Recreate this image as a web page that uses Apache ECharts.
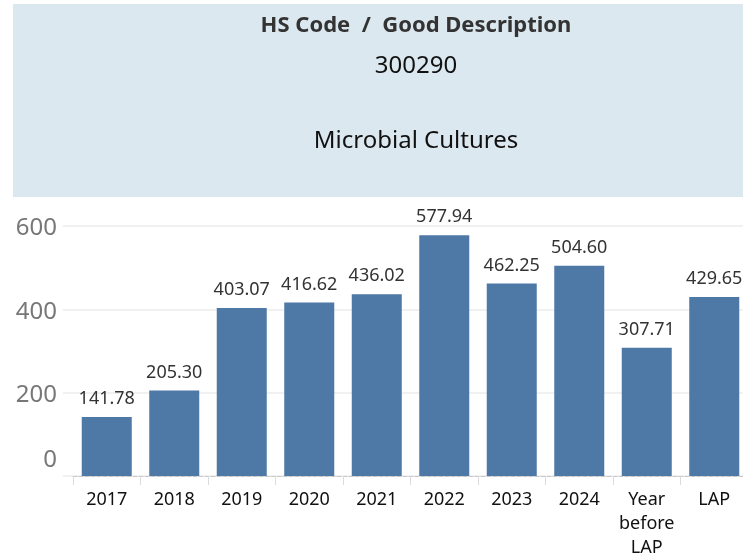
<!DOCTYPE html>
<html>
<head>
<meta charset="utf-8">
<script src="https://cdn.jsdelivr.net/npm/echarts@6/dist/echarts.min.js"></script>
<style>
html,body{margin:0;padding:0;background:#fff;}
#chart{width:743px;height:555px;}
</style>
</head>
<body>
<div id="chart"></div>
<script>
const categories = ['2017','2018','2019','2020','2021','2022','2023','2024','Year\nbefore\nLAP','LAP'];
const values = [141.78, 205.30, 403.07, 416.62, 436.02, 577.94, 462.25, 504.60, 307.71, 429.65];
const yTicks = [0, 200, 400, 600];
const headerTitle = 'HS Code  /  Good Description';
const hsCode = '300290';
const goodDescription = 'Microbial Cultures';

const FONT = '"Noto Sans", sans-serif';
const chart = echarts.init(document.getElementById('chart'), null, {renderer:'canvas'});
chart.setOption({
  animation:false,
  backgroundColor:'#fff',
  graphic:[{type:'rect', left:13, top:4, shape:{width:730, height:193}, style:{fill:'#dce8ef'}, z:-1}],
  title:[
    {text:headerTitle, left:411, top:10, textAlign:'center', textStyle:{fontFamily:FONT, fontSize:22, fontWeight:'bold', color:'#333'}},
    {text:hsCode, left:411, top:49, textAlign:'center', textStyle:{fontFamily:FONT, fontSize:24, fontWeight:'normal', color:'#111'}},
    {text:goodDescription, left:411, top:124, textAlign:'center', textStyle:{fontFamily:FONT, fontSize:24, fontWeight:'normal', color:'#111'}}
  ],
  grid:[
    {left:63, width:685, top:226, height:250, containLabel:false, outerBoundsMode:'none'},
    {left:73, width:675, top:226, height:250, containLabel:false, outerBoundsMode:'none'}
  ],
  xAxis:[
    {gridIndex:0, type:'value', show:false, min:0, max:1},
    {gridIndex:1, type:'category', data:categories, boundaryGap:true,
     axisLine:{show:true, lineStyle:{color:'#c8c8c8', type:'dashed', width:1}},
     axisTick:{show:true, alignWithLabel:false, length:9, lineStyle:{color:'#dcdcdc', width:1}},
     axisLabel:{interval:0, margin:12, fontFamily:FONT, fontSize:18, color:'#111', lineHeight:24}}
  ],
  yAxis:[
    {gridIndex:0, type:'value', min:0, max:600, interval:200,
     axisLine:{show:false}, axisTick:{show:false},
     splitLine:{show:true, lineStyle:{color:'#ececec', width:1.5}},
     axisLabel:{margin:6, fontFamily:FONT, fontSize:24, color:'#777',
       formatter:function(v){return v===0 ? '{z|0}' : '{n|'+v+'}';},
       rich:{z:{fontFamily:FONT, fontSize:24, color:'#777', padding:[0,0,32,0]},
             n:{fontFamily:FONT, fontSize:24, color:'#777', padding:[5,0,0,0]}}}},
    {gridIndex:1, type:'value', min:0, max:600, interval:200, show:false, splitLine:{show:false}}
  ],
  series:[{
    type:'bar', xAxisIndex:1, yAxisIndex:1, data:values, barWidth:50,
    itemStyle:{color:'#4e79a7'},
    label:{show:true, position:'top', distance:9, fontFamily:FONT, fontSize:18, color:'#333',
      formatter:function(p){return p.value.toFixed(2);}}
  }]
});
</script>
</body>
</html>
